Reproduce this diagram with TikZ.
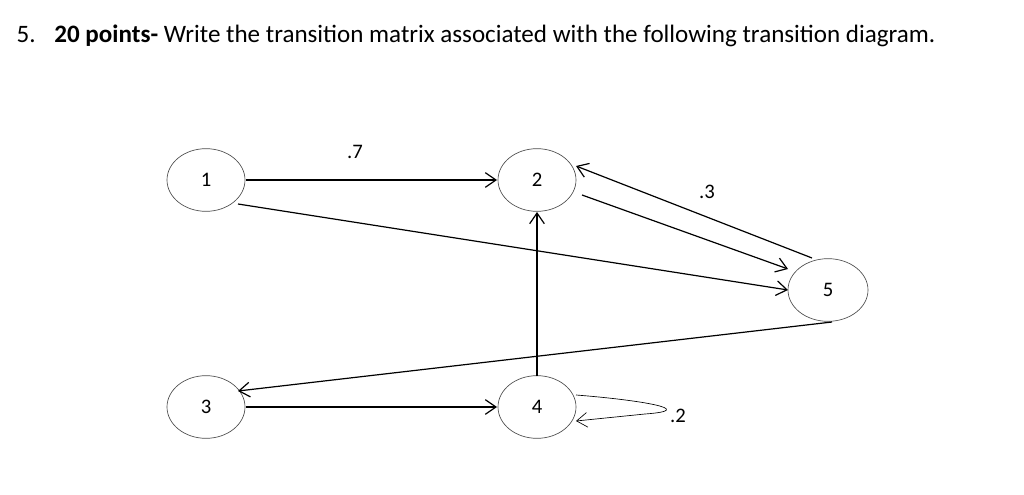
\documentclass[tikz,border=0pt]{standalone}
\usepackage{fontspec}
\setmainfont{Carlito}
\usetikzlibrary{arrows.meta,shapes.geometric}
\begin{document}
\begin{tikzpicture}[x=0.75pt,y=-0.75pt,
  st/.style={ellipse,draw=black!70,line width=0.5pt,minimum width=58.5pt,minimum height=47pt,inner sep=0pt,font=\fontsize{15.5}{18}\selectfont},
  ar/.style={line width=0.9pt,-{Straight Barb[length=8pt,width=11pt,line width=0.9pt]}},
  lab/.style={font=\fontsize{15.5}{18}\selectfont}]
\useasboundingbox (0,0) rectangle (1024,495);
\node[anchor=west,font=\fontsize{18.8}{22}\selectfont] (t) at (12,36) {5.\hspace{14pt}\textbf{20 points-} Write the transition matrix associated with the following transition diagram.};
\node[st] (n1) at (206,180) {1};
\node[st] (n2) at (537,180) {2};
\node[st] (n3) at (206,407) {3};
\node[st] (n4) at (537,407) {4};
\node[st,minimum width=60pt] (n5) at (828,290) {5};
\coordinate (a1) at (246,180); \coordinate (b2) at (497,180);
\draw[ar] (a1) -- (b2);
\coordinate (a1b) at (238,204); \coordinate (b5) at (788,290);
\draw[ar] (a1b) -- (b5);
\coordinate (a2) at (582,195); \coordinate (b5b) at (788,269);
\draw[ar] (a2) -- (b5b);
\coordinate (a5) at (812,258); \coordinate (b2b) at (576,166);
\draw[ar] (a5) -- (b2b);
\coordinate (a5b) at (832,322); \coordinate (b3) at (238,391);
\draw[ar] (a5b) -- (b3);
\coordinate (a4) at (537,376); \coordinate (b2c) at (537,212);
\draw[ar] (a4) -- (b2c);
\coordinate (a3) at (246,407); \coordinate (b4) at (497,407);
\draw[ar] (a3) -- (b4);
\coordinate (l1) at (576,395); \coordinate (l2) at (576,421);
\draw[line width=0.5pt,-{Straight Barb[length=8pt,width=11pt,line width=0.5pt]}] (l1) .. controls (640,400) and (700,410) .. (645,414) -- (l2);
\node[lab] (p7) at (355,152) {.7};
\node[lab] (p3) at (707,192) {.3};
\node[lab] (p2) at (678,416) {.2};
\end{tikzpicture}
\end{document}
